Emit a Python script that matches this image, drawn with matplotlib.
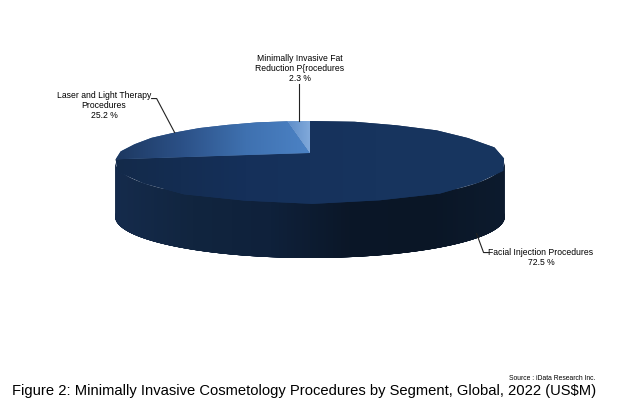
import numpy as np
import matplotlib
matplotlib.use("Agg")
import matplotlib.pyplot as plt
from matplotlib.transforms import Transform
from matplotlib.path import Path
from matplotlib.patches import Polygon
from matplotlib.colors import LinearSegmentedColormap

# Segment shares (%)
segments = ["Facial Injection Procedures",
            "Laser and Light Therapy\nProcedures",
            "Minimally Invasive Fat\nReduction P{rocedures"]
shares = [72.5, 25.2, 2.3]
pct_labels = ["72.5 %", "25.2 %", "2.3 %"]

# 3D look: pie plane is projected with a little perspective, then extruded
CX, CY = 310, 153          # pie apex in pixels
A, B, K, DEPTH = 190, 39, 0.22, 55

W, H = 625, 409


class Perspective(Transform):
    input_dims = output_dims = 2
    is_separable = False
    has_inverse = False

    def __init__(self, z=0.0):
        super().__init__()
        self.z = z

    def transform_non_affine(self, values):
        values = np.asarray(values, float)
        u, v = values[:, 0], values[:, 1]
        w = 1 + K * v
        return np.column_stack([CX + A * u / w, CY - B * v / w + DEPTH * self.z])

    def transform_path_non_affine(self, path):
        polys = path.to_polygons(closed_only=False)
        verts = np.concatenate(polys) if len(polys) else path.vertices
        return Path(self.transform_non_affine(verts), closed=True)


def gradient_fill(ax, clip, stops, extent):
    cmap = LinearSegmentedColormap.from_list("g", stops)
    img = ax.imshow(np.linspace(0, 1, 256).reshape(1, -1), cmap=cmap, aspect="auto",
                    extent=extent, interpolation="bicubic", zorder=clip.get_zorder())
    img.set_clip_path(clip)


fig = plt.figure(figsize=(W / 100, H / 100), dpi=100)
ax = fig.add_axes([0, 0, 1, 1])

# side of the cylinder: hull of top and bottom ellipses
top = Perspective(0.0)
bot = Perspective(1.0)
th = np.linspace(0, 2 * np.pi, 1441)
ring = np.column_stack([np.cos(th), np.sin(th)])
xs = top.transform_non_affine(ring)[:, 0]
i_min, i_max = np.argmin(xs), np.argmax(xs)
# lower arc goes from leftmost point through 270 deg to rightmost point
t_low = np.linspace(th[i_min], th[i_max] + 2 * np.pi, 300)
t_up = np.linspace(th[i_max], th[i_min], 300)
low_pts = bot.transform_non_affine(np.column_stack([np.cos(t_low), np.sin(t_low)]))
up_pts = top.transform_non_affine(np.column_stack([np.cos(t_up), np.sin(t_up)]))
side = Polygon(np.vstack([low_pts, up_pts]), closed=True, facecolor="#0f223e",
               edgecolor="none", zorder=1)
ax.add_patch(side)
gradient_fill(ax, side, ["#152b4c", "#11253f", "#0f213b", "#0b1728", "#0a1626", "#0d1b2e"],
              (xs.min() - 1, xs.max() + 1, CY + 120, CY - 40))

# top face drawn by pie() through the perspective transform
wedges, _ = ax.pie(shares, startangle=90, counterclock=False,
                   colors=["#17325a", "#2f5a92", "#7ca5d8"],
                   wedgeprops=dict(transform=top + ax.transData, linewidth=0, zorder=2))
tops = [
    ["#132a4a", "#15305a", "#17345e", "#183660"],
    ["#1d3860", "#2b5086", "#3f71b0", "#4c83c6"],
    ["#5d8cc8", "#84acdc"],
]
for wdg, stops in zip(wedges, tops):
    pts = top.transform_path(wdg.get_path()).vertices
    gradient_fill(ax, wdg, stops, (pts[:, 0].min() - 1, pts[:, 0].max() + 1,
                                   pts[:, 1].max() + 1, pts[:, 1].min() - 1))

# leader lines anchored at wedge mid-angles
mids = [np.deg2rad((wdg.theta1 + wdg.theta2) / 2) for wdg in wedges]

lc = dict(color="#222222", lw=0.8, zorder=5)
fs = 6.2
fam = "Liberation Sans"

# Facial injection (front, bottom edge of the side)
p = bot.transform_non_affine([[np.cos(mids[0]), np.sin(mids[0])]])[0]
ax.plot([p[0] - 2, p[0] + 5, p[0] + 10], [p[1] - 4, p[1] + 15, p[1] + 15], **lc)
ax.text(541, p[1] + 10, segments[0] + "\n" + pct_labels[0], fontsize=fs, family=fam,
        ha="center", va="top", linespacing=1.15)

# Laser and light therapy (back-left)
p = top.transform_non_affine([[np.cos(mids[1]), np.sin(mids[1])]])[0]
ax.plot([p[0], p[0] - 18, p[0] - 23], [p[1], p[1] - 34, p[1] - 34], **lc)
ax.text(104, 91, segments[1] + "\n" + pct_labels[1], fontsize=fs, family=fam,
        ha="center", va="top", linespacing=1.15)

# Fat reduction (back, narrow slice)
p = top.transform_non_affine([[np.cos(mids[2]), np.sin(mids[2])]])[0]
ax.plot([p[0], p[0]], [p[1], 84], **lc)
ax.text(300, 54, segments[2] + "\n" + pct_labels[2], fontsize=fs, family=fam,
        ha="center", va="top", linespacing=1.15)

ax.text(595, 379, "Source : iData Research Inc.", fontsize=4.9, family=fam,
        ha="right", va="center")
ax.text(304, 391, r"Figure 2: Minimally Invasive Cosmetology Procedures by Segment, Global, 2022 (US\$M)",
        fontsize=10.65, family=fam, ha="center", va="center")

ax.set_aspect("auto")
ax.set_xlim(0, W)
ax.set_ylim(H, 0)
ax.axis("off")
fig.savefig("out.png", dpi=100, facecolor="white")
